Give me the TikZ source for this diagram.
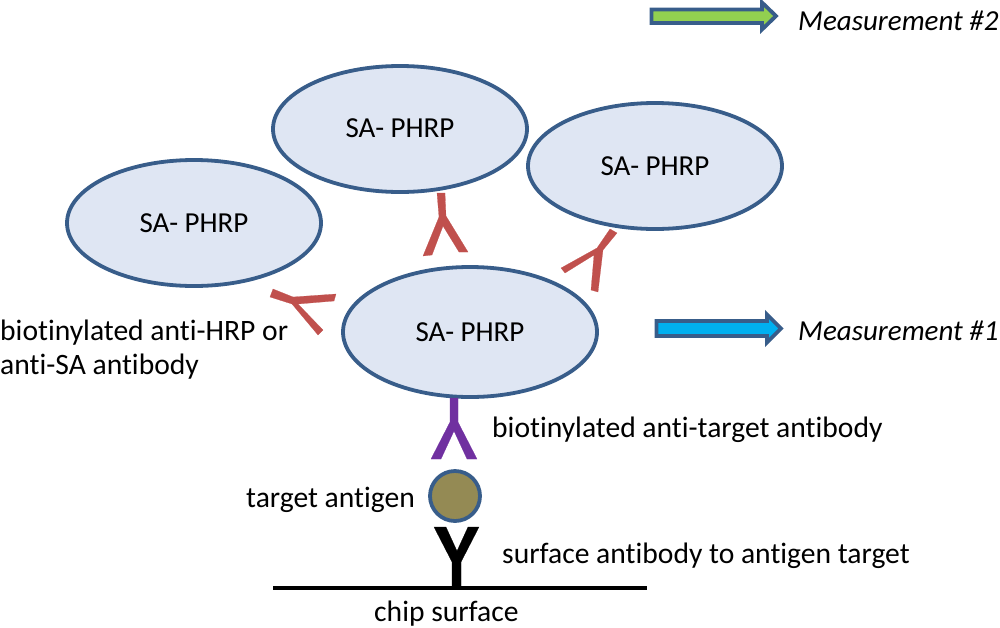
\documentclass[tikz,border=0pt]{standalone}
\usepackage{fontspec}
\setmainfont[Ligatures=NoCommon]{Carlito}
\usetikzlibrary{shapes.geometric}
\definecolor{edgeblue}{HTML}{385D8A}
\definecolor{ellfill}{HTML}{DFE6F3}
\definecolor{abred}{HTML}{C0504D}
\definecolor{abpurple}{HTML}{7030A0}
\definecolor{antigen}{HTML}{948A54}
\definecolor{armgreen}{HTML}{92D050}
\definecolor{armblue}{HTML}{00B0F0}
\tikzset{
  phrp/.style={ellipse,draw=edgeblue,line width=3.8pt,fill=ellfill,minimum width=254pt,minimum height=126pt,inner sep=0pt,font=\fontsize{29}{34}\selectfont},
  lab/.style={inner sep=0pt,anchor=base west,font=\fontsize{29.6}{34}\selectfont},
  mlab/.style={lab,font=\fontsize{29}{34}\selectfont\itshape},
  abshape/.style={fill=#1,draw=#1,line width=0.2pt,line join=round},
  bigarrow/.style={draw=edgeblue,line width=3.8pt,line join=miter}
}
\begin{document}
\begin{tikzpicture}[x=1pt,y=-1pt]
\useasboundingbox (0,0) rectangle (1000,627);
\node[phrp] (top) at (400,129) {\raisebox{2pt}{SA- PHRP}};
\node[phrp] (right) at (655,166) {SA- PHRP};
\node[phrp] (left) at (194,223) {\raisebox{-1pt}{SA- PHRP}};
\node[phrp,minimum height=130pt] (main) at (470,332) {SA- PHRP};
% red antibodies
\fill[abshape=abred] (437,193) -- (445,193) -- (446,216) -- (468,252) -- (459,252) -- (443,226) -- (432,255) -- (423,256) -- (439,217) -- cycle;
\fill[abshape=abred] (610,229) -- (617,233) -- (603,250) -- (598,292) -- (591,290) -- (594,255) -- (565,273) -- (561,268) -- (597,248) -- cycle;
\fill[abshape=abred] (336,294) -- (334,301) -- (298,304) -- (323,330) -- (318,335) -- (292,304) -- (270,297) -- (273,289) -- (293,297) -- cycle;
% purple
\fill[abshape=abpurple] (450,398) -- (458,398) -- (458,422) -- (477,459) -- (467,459) -- (454,431) -- (441,459) -- (431,459) -- (450,422) -- cycle;
% antigen
\node[circle,draw=edgeblue,line width=3.8pt,fill=antigen,minimum size=50pt,inner sep=0pt] (ag) at (455,496) {};
% black surface antibody
\draw[line width=4pt] (273,588) -- (647,588);
\fill[abshape=black] (434,527) -- (446,527) -- (457,551) -- (468,527) -- (479,527) -- (461,562) -- (461,588) -- (452,588) -- (452,562) -- cycle;
% arrows
\draw[bigarrow,fill=armgreen] (651.5,9.5) -- (762,9.5) -- (762,2.5) -- (776,16) -- (762,29.5) -- (762,23) -- (651.5,23) -- cycle;
\draw[bigarrow,fill=armblue] (656.5,321) -- (767,321) -- (767,314.5) -- (781,328.5) -- (767,342.5) -- (767,336) -- (656.5,336) -- cycle;
% labels
\node[mlab] (m2) at (798,30) {Measurement \#2};
\node[mlab] (m1) at (798,340) {Measurement \#1};
\node[lab] (l1a) at (0,340) {biotinylated anti-HRP or};
\node[lab] (l1b) at (0,374) {anti-SA antibody};
\node[lab] (l2) at (492,437) {biotinylated anti-target antibody};
\node[lab] (l3) at (246,507) {target antigen};
\node[lab] (l4) at (502,563) {surface antibody to antigen target};
\node[lab] (l5) at (374,621) {chip surface};
\end{tikzpicture}
\end{document}
